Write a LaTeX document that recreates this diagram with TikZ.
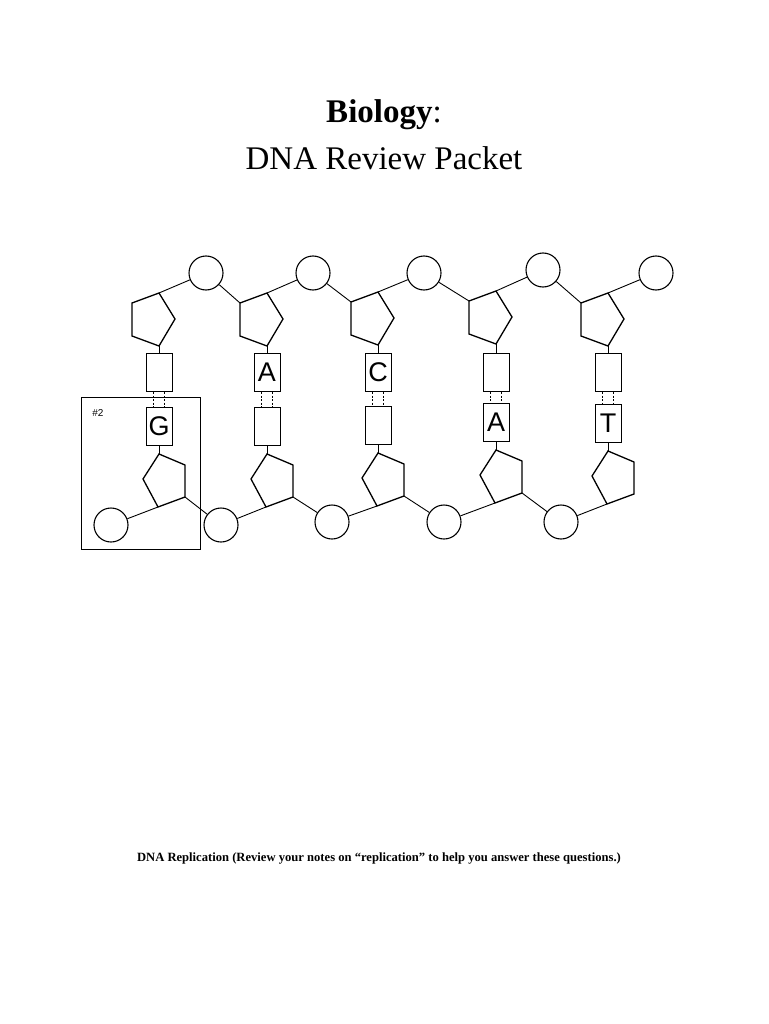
\documentclass[tikz,border=0pt]{standalone}
\usepackage{fontspec}
\setmainfont{Liberation Serif}
\newfontfamily\arialf{Liberation Sans}
\begin{document}
\begin{tikzpicture}[x=1pt,y=-1pt,
  ball/.style={draw,circle,minimum size=34pt,inner sep=0pt,line width=1.1pt},
  base/.style={draw,rectangle,minimum width=26pt,minimum height=38pt,inner sep=0pt,line width=1pt,font=\arialf\fontsize{27}{27}\selectfont},
  sugar/.style={line width=1.3pt,line join=miter},
  bond/.style={line width=0.9pt}]
\useasboundingbox (0,0) rectangle (768,1024);
\node at (384,115) {\fontsize{33}{33}\selectfont\textbf{Biology}:};
\node at (384,158) {\fontsize{33}{33}\selectfont DNA Review Packet};
\node (q) at (379,858) {\fontsize{12.6}{14}\selectfont\textbf{DNA Replication (Review your notes on “replication” to help you answer these questions.)}};
\node[draw,line width=0.8pt,minimum width=119pt,minimum height=152pt,inner sep=0pt] (box) at (140.5,473) {};
\node[font=\arialf\fontsize{10}{10}\selectfont] (lab) at (98,413) {\#2};
% top strand
\foreach \i/\tx/\ty/\cx/\cy/\lab in {1/159/293/206/273/,2/267/293/313/273/A,3/378/292/424/273/C,4/496/291/543/270/,5/608/293/656/273/}{
  \node[ball] (tc\i) at (\cx,\cy) {};
  \coordinate (tp\i a) at (\tx,\ty);
  \coordinate (tp\i b) at (\tx+16,\ty+26);
  \coordinate (tp\i c) at (\tx,\ty+53);
  \coordinate (tp\i d) at (\tx-27,\ty+43);
  \coordinate (tp\i e) at (\tx-27,\ty+10);
  \draw[sugar] (tp\i a)--(tp\i b)--(tp\i c)--(tp\i d)--(tp\i e)--cycle;
  \node[base] (tr\i) at (\tx,372.5) {\lab};
  \draw[bond] (tp\i c)--(tr\i.north);
  \draw[bond] (tc\i)--(tp\i a);
}
\foreach \i/\j in {1/2,2/3,3/4,4/5}{\draw[bond] (tc\i)--(tp\j e);}
% bottom strand
\foreach \i/\tx/\ty/\cx/\cy/\lab in {1/159/454/111/525/G,2/267/454/221/525/,3/378/453/332/522/,4/496/450/444/522/A,5/608/451/561/522/T}{
  \node[ball] (bc\i) at (\cx,\cy) {};
  \coordinate (bp\i a) at (\tx,\ty);
  \coordinate (bp\i b) at (\tx+26,\ty+11);
  \coordinate (bp\i c) at (\tx+26,\ty+43);
  \coordinate (bp\i d) at (\tx-1,\ty+53);
  \coordinate (bp\i e) at (\tx-16,\ty+25);
  \draw[sugar] (bp\i a)--(bp\i b)--(bp\i c)--(bp\i d)--(bp\i e)--cycle;
  \node[base] (br\i) at (\tx,\ty-28) {\lab};
  \draw[bond] (br\i.south)--(bp\i a);
  \draw[bond] (bp\i d)--(bc\i);
  \draw[bond,dashed,dash pattern=on 2pt off 1.5pt] ([xshift=-5.5pt]tr\i.south)--([xshift=-5.5pt]br\i.north);
  \draw[bond,dashed,dash pattern=on 2pt off 1.5pt] ([xshift=5.5pt]tr\i.south)--([xshift=5.5pt]br\i.north);
}
\foreach \i/\j in {1/2,2/3,3/4,4/5}{\draw[bond] (bp\i c)--(bc\j);}
\end{tikzpicture}
\end{document}
